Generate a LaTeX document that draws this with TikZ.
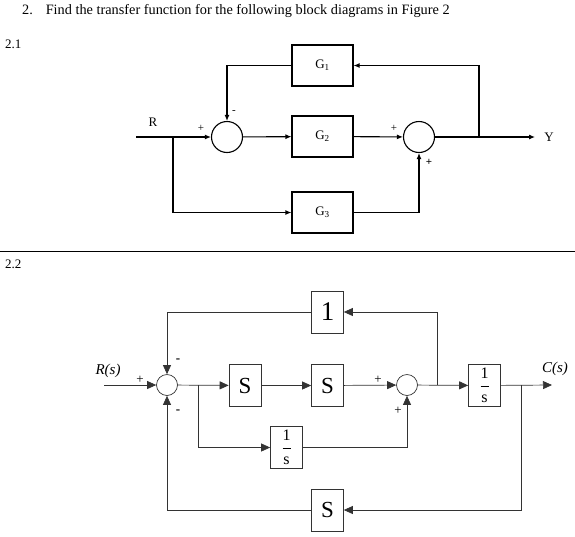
\documentclass[tikz,border=0pt]{standalone}
\usepackage{amsmath}
\usepackage{fontspec}
\setmainfont{Liberation Serif}
\usetikzlibrary{arrows.meta}

\begin{document}
\begin{tikzpicture}[x=1pt,y=-1pt,
  blk/.style={draw,line width=1.1pt,minimum width=61pt,minimum height=41pt,inner sep=0pt,font=\fontsize{13}{15}\selectfont},
  sumj/.style={draw,circle,line width=1.1pt,minimum size=31pt,inner sep=0pt},
  sig/.style={line width=1.1pt,-{Latex[length=6,width=5]}},
  blkb/.style={draw,black!80,line width=0.7pt,minimum width=32pt,minimum height=42pt,inner sep=0pt,text=black},
  sumb/.style={draw,circle,black!80,line width=0.7pt,minimum size=21pt,inner sep=0pt},
  sigb/.style={black!80,line width=0.7pt,-{Triangle[length=9,width=8]}},
  sgn/.style={inner sep=0pt,font=\fontsize{11}{13}\selectfont}]
\useasboundingbox (0,0) rectangle (575,536);
\node[anchor=base west,inner sep=0pt,font=\fontsize{14.3}{17}\selectfont] (title) at (22,14) {2.\hspace{0.9em}Find the transfer function for the following block diagrams in Figure 2};
\node[anchor=base west,inner sep=0pt,font=\fontsize{13}{15}\selectfont] (labone) at (5,48) {2.1};
\draw[line width=1pt] (0,251) coordinate (linel) -- (575,251) coordinate (liner);
\node[anchor=base west,inner sep=0pt,font=\fontsize{13}{15}\selectfont] (labtwo) at (5,268) {2.2};

% 2.1
\node[blk] (gone) at (322.5,65.5) {G\textsubscript{1}};
\node[blk] (gtwo) at (322.5,136.5) {G\textsubscript{2}};
\node[blk] (gthree) at (322.5,212.5) {G\textsubscript{3}};
\node[sumj] (sumone) at (227,137) {};
\node[sumj] (sumtwo) at (419,137) {};
\coordinate (rin) at (136,137);
\coordinate (rsplit) at (173,137);
\coordinate (ysplit) at (479,137);
\coordinate (yout) at (535,137);
\draw[line width=1.1pt] (rin) -- (rsplit);
\draw[sig] (rsplit) -- (sumone);
\draw[sig] (rsplit) |- (gthree.west);
\draw[sig] (gone.west) -| (sumone.north);
\draw[sig] (sumone) -- (gtwo);
\draw[sig] (gtwo) -- (sumtwo);
\draw[sig] (gthree.east) -| (sumtwo.south);
\draw[sig] (sumtwo) -- (yout);
\draw[sig] (ysplit) |- (gone.east);
\node[font=\fontsize{13}{15}\selectfont] (rlab) at (153,122) {R};
\node[font=\fontsize{13}{15}\selectfont] (ylab) at (549,137) {Y};
\node[sgn] at (201,128) {+};
\node[sgn] at (234,112) {-};
\node[sgn] at (394,128) {+};
\node[sgn,font=\fontsize{11}{13}\bfseries] at (429,162) {+};

% 2.2
\node[blkb,font=\fontsize{27}{29}\selectfont] (bone) at (327.5,312) {1};
\node[blkb,font=\fontsize{23}{25}\selectfont] (sone) at (245,385.5) {S};
\node[blkb,font=\fontsize{23}{25}\selectfont] (stwo) at (327.5,385.5) {S};
\node[blkb,font=\fontsize{16}{18}\selectfont] (fmid) at (286.5,447.5) {$\dfrac{\text{1}}{\text{s}}$};
\node[blkb,font=\fontsize{23}{25}\selectfont] (sthree) at (327.5,510) {S};
\node[blkb,font=\fontsize{16}{18}\selectfont] (fright) at (484.5,385.5) {$\dfrac{\text{1}}{\text{s}}$};
\node[sumb] (suma) at (167,385) {};
\node[sumb] (sumbb) at (407,385) {};
\coordinate (rsin) at (104,385);
\coordinate (asplit) at (198,385);
\coordinate (bsplit) at (437,385);
\coordinate (csplit) at (521,385);
\coordinate (csout) at (552,385);
\draw[sigb] (rsin) -- (suma);
\draw[sigb] (suma) -- (sone);
\draw[sigb] (sone) -- (stwo);
\draw[sigb] (stwo) -- (sumbb);
\draw[sigb] (sumbb) -- (fright);
\draw[sigb] (fright) -- (csout);
\draw[sigb] (asplit) |- (fmid.west);
\draw[sigb] (fmid.east) -| (sumbb.south);
\draw[sigb] (bsplit) |- (bone.east);
\draw[sigb] (bone.west) -| (suma.north);
\draw[sigb] (csplit) |- (sthree.east);
\draw[sigb] (sthree.west) -| (suma.south);
\node[font=\fontsize{15}{17}\itshape] (rslab) at (108,371) {R(s)};
\node[font=\fontsize{15}{17}\itshape] (cslab) at (555,369) {C(s)};
\node[sgn,font=\fontsize{13}{15}\selectfont] at (140,380) {+};
\node[sgn,font=\fontsize{13}{15}\bfseries] at (178,361) {-};
\node[sgn,font=\fontsize{13}{15}\bfseries] at (178,412) {-};
\node[sgn,font=\fontsize{13}{15}\selectfont] at (378,380) {+};
\node[sgn,font=\fontsize{13}{15}\selectfont] at (398,411) {+};
\end{tikzpicture}
\end{document}
